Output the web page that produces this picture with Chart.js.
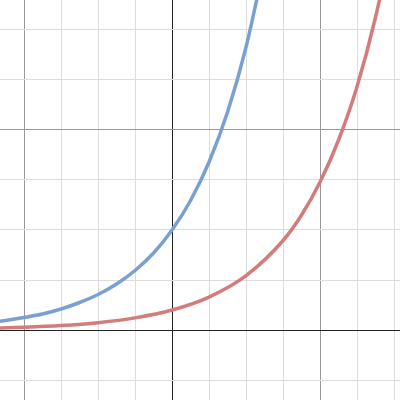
<!DOCTYPE html>
<html><head><meta charset="utf-8">
<script src="https://cdn.jsdelivr.net/npm/chart.js@4/dist/chart.umd.min.js"></script>
<style>html,body{margin:0;padding:0;background:#fff}#c{width:400px;height:400px}</style>
</head><body><div id="c"><canvas id="cv" width="400" height="400"></canvas></div>
<script>
const blueX = [-4.7,-4.5,-4,-3.5,-3,-2.5,-2,-1.5,-1,-0.5,0,0.5,1,1.5,2,2.5];
const blueY = [0.17,0.19,0.25,0.32,0.42,0.55,0.71,0.92,1.19,1.54,2,2.59,3.36,4.36,5.66,7.34];
const redX = [-4.7,-4,-3,-2,-1,0,1,2,3,3.5,4,4.5,5,5.5,6,6.5];
const redY = [0.038,0.054,0.089,0.147,0.243,0.4,0.659,1.087,1.79,2.30,2.96,3.80,4.87,6.26,8.03,10.3];
const xTicks = [-4,-3,-2,-1,0,1,2,3,4,5,6];
const yTicks = [-1,0,1,2,3,4,5,6];
const pts = (xs, ys) => xs.map((x, i) => ({x, y: ys[i]}));
function gridColor(ctx){
  const v = ctx.tick.value;
  if (v === 0) return '#222';
  if (Math.abs(v) % 4 === 0) return '#999';
  return '#ddd';
}
new Chart(document.getElementById('cv'), {
  type: 'scatter',
  data: { datasets: [
    {data: pts(blueX, blueY), showLine: true, borderColor: 'rgb(122,160,210)', borderWidth: 3.5, pointRadius: 0, cubicInterpolationMode: 'monotone'},
    {data: pts(redX, redY), showLine: true, borderColor: 'rgb(210,124,124)', borderWidth: 3.5, pointRadius: 0, cubicInterpolationMode: 'monotone'}
  ]},
  options: {
    responsive: false, animation: false,
    layout: {padding: 0},
    plugins: {legend: {display: false}, tooltip: {enabled: false}},
    scales: {
      x: {type: 'linear', min: -4.65, max: 6.16, afterBuildTicks: s => { s.ticks = xTicks.map(v => ({value: v})); }, ticks: {display: false}, border: {display: false}, grid: {color: gridColor, drawTicks: false, lineWidth: 1}},
      y: {type: 'linear', min: -1.4, max: 6.6, afterBuildTicks: s => { s.ticks = yTicks.map(v => ({value: v})); }, ticks: {display: false}, border: {display: false}, grid: {color: gridColor, drawTicks: false, lineWidth: 1}}
    }
  }
});
</script></body></html>
